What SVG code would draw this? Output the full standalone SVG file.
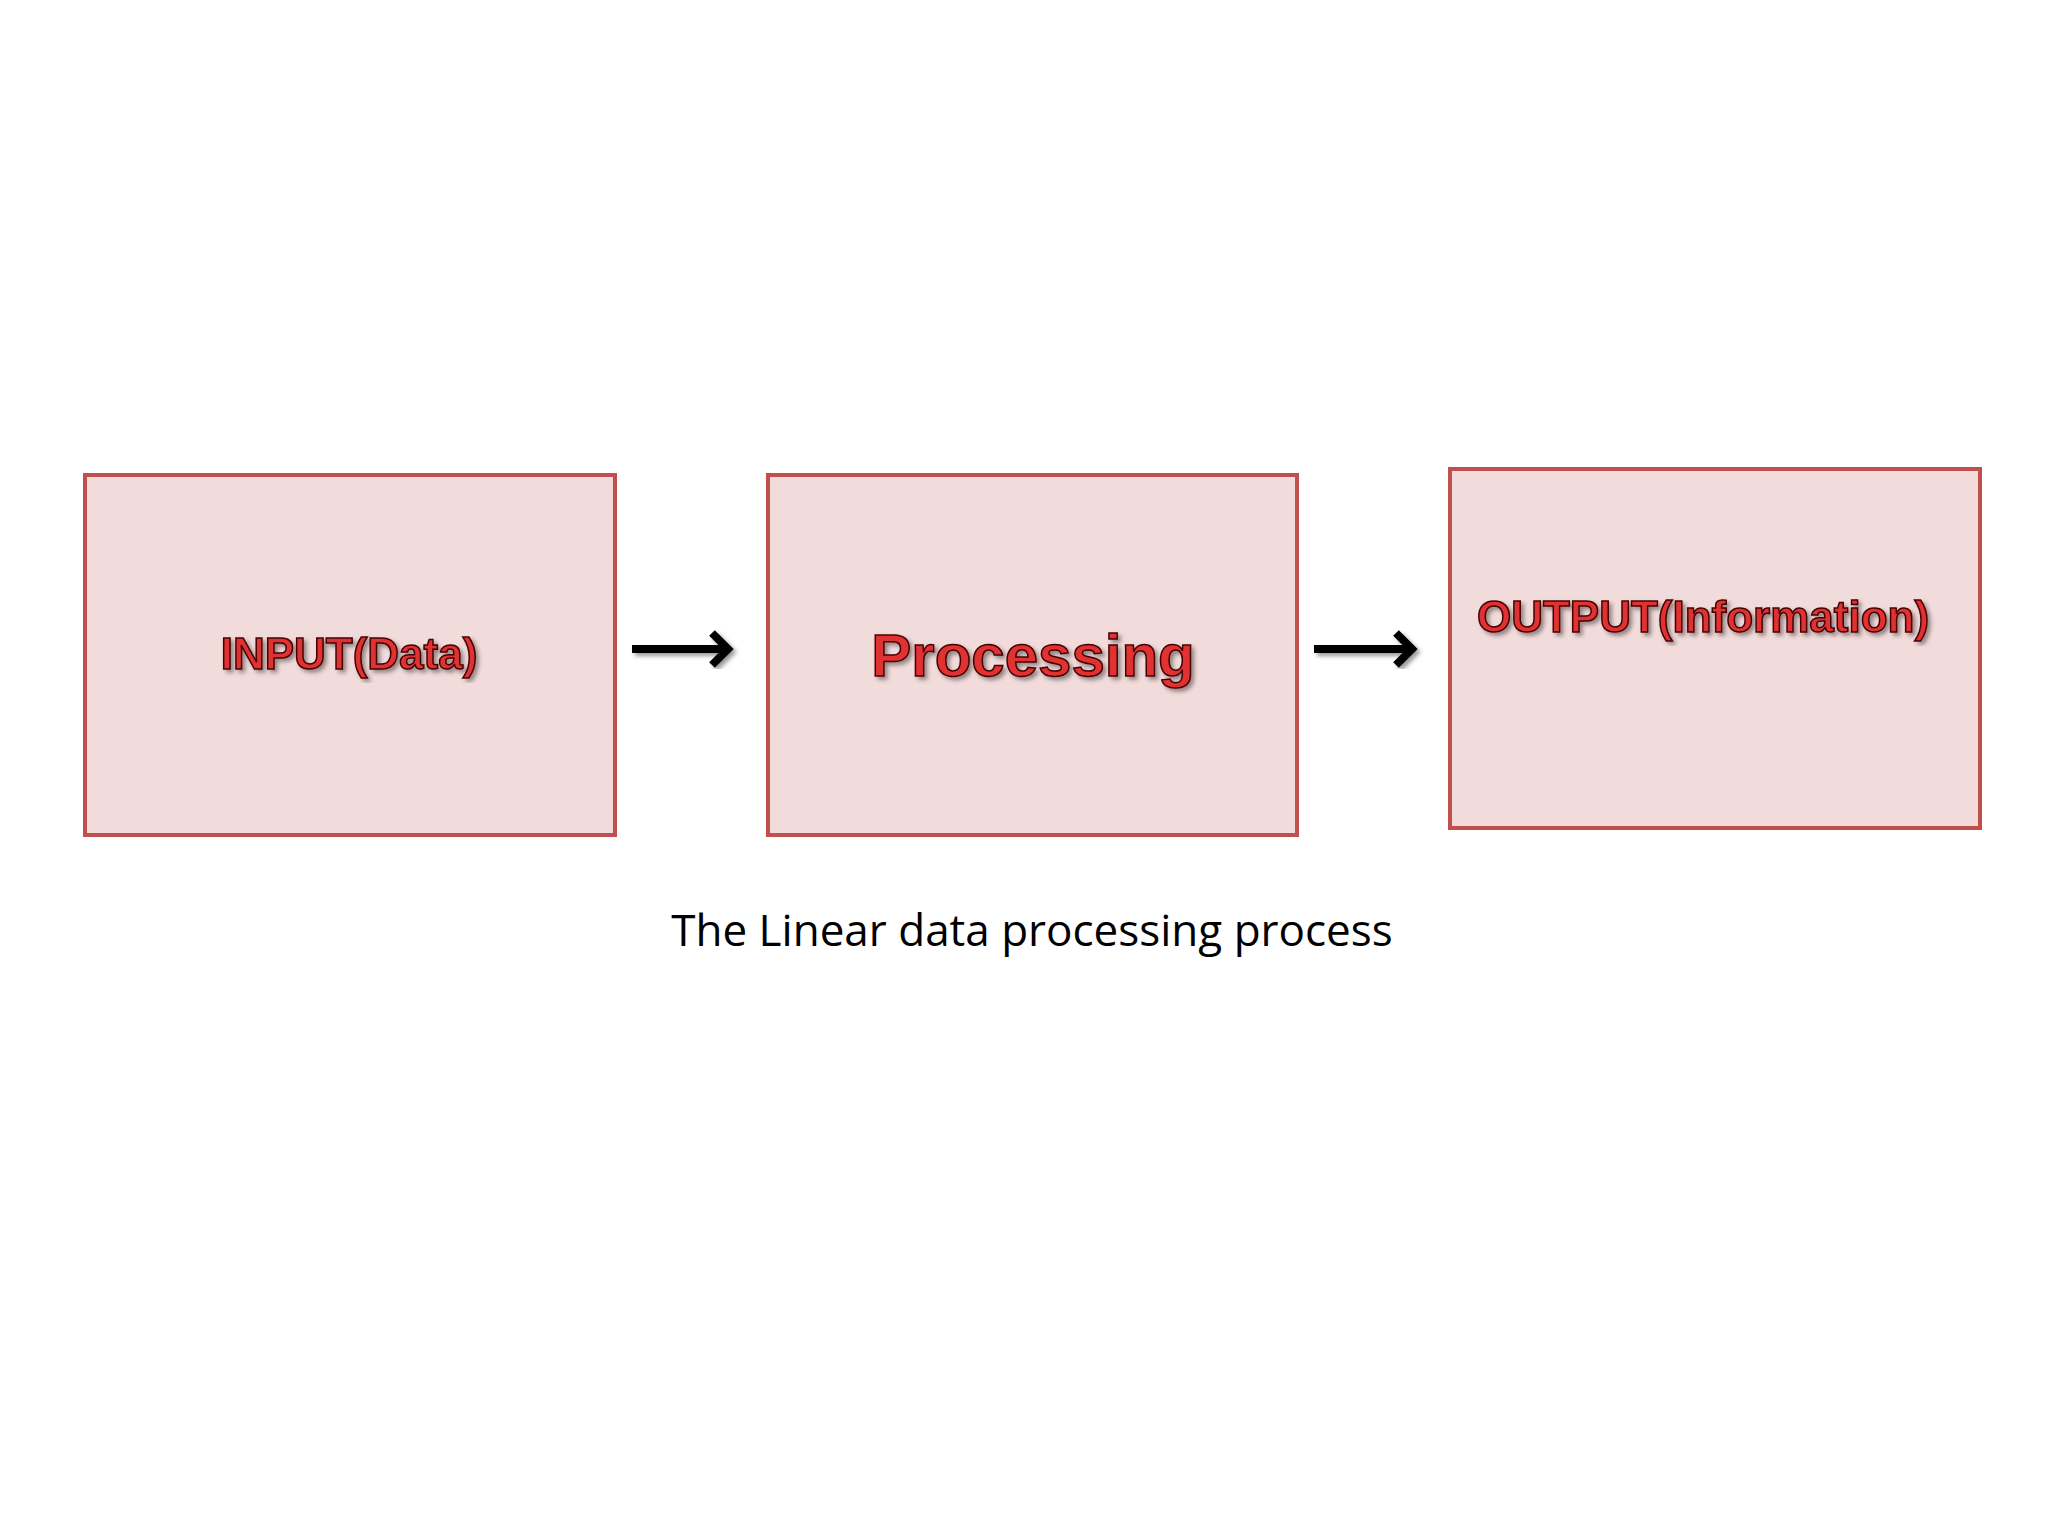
<svg xmlns="http://www.w3.org/2000/svg" width="2048" height="1536" viewBox="0 0 2048 1536">
<style>
.box{fill:#f2dcdb;stroke:#c0504d;stroke-width:4}
.lbl{font-family:"Liberation Sans",Arial,sans-serif;font-weight:bold;fill:#e03030;stroke:#400;stroke-width:1.5;text-anchor:middle;dominant-baseline:middle}
.arr{stroke:#000;stroke-width:8;fill:none}
</style>
<defs>
<filter id="sh"><feDropShadow dx="3" dy="3" stdDeviation="2" flood-color="#000" flood-opacity="0.4"/></filter>
</defs>
<rect width="2048" height="1536" fill="#fff"/>
<g id="input"><rect class="box" x="85" y="475" width="530" height="360"/><text class="lbl" x="349" y="657" font-size="44" filter="url(#sh)">INPUT(Data)</text></g>
<g id="processing"><rect class="box" x="768" y="475" width="529" height="360"/><text class="lbl" x="1033" y="660" font-size="60" filter="url(#sh)">Processing</text></g>
<g id="output"><rect class="box" x="1450" y="469" width="530" height="359"/><text class="lbl" x="1703" y="620" font-size="44" filter="url(#sh)">OUTPUT(Information)</text></g>
<g id="connectors" filter="url(#sh)">
<path class="arr" d="M632 649H728M712 633L728 649L712 665"/>
<path class="arr" d="M1314 649H1412M1396 633L1412 649L1396 665"/>
</g>
<text x="1032" y="934" font-family="'Open Sans',sans-serif" font-size="44" text-anchor="middle" dominant-baseline="middle" fill="#000">The Linear data processing process</text>
</svg>
